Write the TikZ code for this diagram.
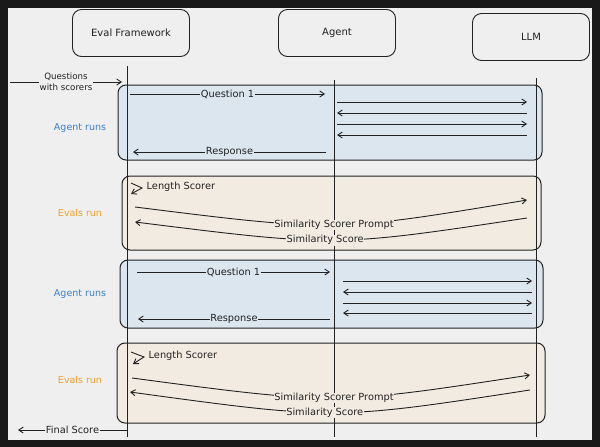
\documentclass[tikz,border=0pt]{standalone}
\usepackage{fontspec}
\setmainfont{DejaVu Sans}
\usetikzlibrary{arrows.meta}
\definecolor{bgc}{HTML}{EFEFEF}
\definecolor{ln}{HTML}{222222}
\definecolor{bluefill}{HTML}{DCE6EF}
\definecolor{orfill}{HTML}{F2EBE2}
\definecolor{bluetxt}{HTML}{3A7FD0}
\definecolor{ortxt}{HTML}{F0A028}
\tikzset{
  actor/.style={draw=ln, line width=0.9pt, rounded corners=9pt, minimum width=117pt, minimum height=47pt, font=\fontsize{10}{12}\selectfont, text=ln},
  lifeline/.style={draw=ln, line width=0.9pt},
  bluebox/.style={draw=ln, line width=1pt, rounded corners=8pt, fill=bluefill},
  orbox/.style={draw=ln, line width=1pt, rounded corners=8pt, fill=orfill},
  msg/.style={draw=ln, line width=0.9pt, -{Straight Barb[length=4.5pt,width=6pt]}},
  lbl/.style={font=\fontsize{9.8}{11}\selectfont, text=ln, inner sep=0.5pt},
  sidelbl/.style={font=\fontsize{9.5}{11}\selectfont},
}
\begin{document}
\begin{tikzpicture}[x=1pt,y=-1pt]
\useasboundingbox (0,0) rectangle (600,447);
\fill[black!90] (0,0) rectangle (600,447);
\fill[bgc] (8,8) rectangle (592,440);

% actors
\node[actor] (ef) at (131,33) {Eval Framework};
\node[actor] (ag) at (337,33) {Agent};
\node[actor] (llm) at (531,37) {LLM};

% region boxes
\path[bluebox] (118,85) rectangle (542,160);
\path[orbox] (122,176) rectangle (541,250);
\path[bluebox] (120,260) rectangle (543,328);
\path[orbox] (117,343) rectangle (545,423);

% side labels
\node[sidelbl, text=bluetxt] (l1) at (80,128) {Agent runs};
\node[sidelbl, text=ortxt] (l2) at (80,213) {Evals run};
\node[sidelbl, text=bluetxt] (l3) at (80,294) {Agent runs};
\node[sidelbl, text=ortxt] (l4) at (80,380) {Evals run};

% lifelines
\coordinate (eT) at (127,66);
\coordinate (eB) at (127,437);
\coordinate (aT) at (334,80);
\coordinate (aB) at (334,437);
\coordinate (lT) at (536,78);
\coordinate (lB) at (536,437);
\draw[lifeline] (eT) -- (eB);
\draw[lifeline] (aT) -- (aB);
\draw[lifeline] (lT) -- (lB);

% input / output
\coordinate (qin) at (10,82);
\coordinate (qend) at (122,82);
\draw[msg] (qin) -- node[lbl, fill=bgc, align=center, font=\fontsize{8.7}{11}\selectfont] (qlab) {Questions\\with scorers} (qend);
\coordinate (fs0) at (127,430);
\coordinate (fs1) at (18,430);
\draw[msg] (fs0) -- node[lbl, fill=bgc] (fslab) {Final Score} (fs1);

% ---------- Agent runs 1 ----------
\coordinate (a1q0) at (130,94);  \coordinate (a1q1) at (325,94);
\draw[msg] (a1q0) -- node[lbl, fill=bluefill] (a1ql) {Question 1} (a1q1);
\foreach \y in {102,113,124,135}{
  \coordinate (a1L\y) at (337,\y); \coordinate (a1R\y) at (527,\y);
}
\draw[msg] (a1L102) -- (a1R102);
\draw[msg] (a1R113) -- (a1L113);
\draw[msg] (a1L124) -- (a1R124);
\draw[msg] (a1R135) -- (a1L135);
\coordinate (a1r0) at (326,152); \coordinate (a1r1) at (133,152);
\draw[msg] (a1r0) -- node[lbl, fill=bluefill, pos=0.5] (a1rl) {Response} (a1r1);

% ---------- Evals run 1 ----------
\coordinate (e1s0) at (131,183); \coordinate (e1s1) at (142,188); \coordinate (e1s2) at (131,194);
\draw[msg] (e1s0) -- (e1s1) -- (e1s2);
\node[lbl, anchor=west] (e1ls) at (146,187) {Length Scorer};
\coordinate (e1p0) at (135,207); \coordinate (e1p1) at (527,200);
\draw[msg] (e1p0) .. controls (335,232) .. node[lbl, fill=orfill, pos=0.5] (e1pl) {Similarity Scorer Prompt} (e1p1);
\coordinate (e1r0) at (527,218); \coordinate (e1r1) at (135,222);
\draw[msg] (e1r0) .. controls (335,247) .. node[lbl, fill=orfill, pos=0.53] (e1rl) {Similarity Score} (e1r1);

% ---------- Agent runs 2 ----------
\coordinate (a2q0) at (137,272);  \coordinate (a2q1) at (330,272);
\draw[msg] (a2q0) -- node[lbl, fill=bluefill] (a2ql) {Question 1} (a2q1);
\foreach \y in {281,292,303,313}{
  \coordinate (a2L\y) at (343,\y); \coordinate (a2R\y) at (532,\y);
}
\draw[msg] (a2L281) -- (a2R281);
\draw[msg] (a2R292) -- (a2L292);
\draw[msg] (a2L303) -- (a2R303);
\draw[msg] (a2R313) -- (a2L313);
\coordinate (a2r0) at (330,319); \coordinate (a2r1) at (138,319);
\draw[msg] (a2r0) -- node[lbl, fill=bluefill] (a2rl) {Response} (a2r1);

% ---------- Evals run 2 ----------
\coordinate (e2s0) at (131,352); \coordinate (e2s1) at (144,357); \coordinate (e2s2) at (133,364);
\draw[msg] (e2s0) -- (e2s1) -- (e2s2);
\node[lbl, anchor=west] (e2ls) at (148,356) {Length Scorer};
\coordinate (e2p0) at (132,378); \coordinate (e2p1) at (530,375);
\draw[msg] (e2p0) .. controls (335,405) .. node[lbl, fill=orfill, pos=0.5] (e2pl) {Similarity Scorer Prompt} (e2p1);
\coordinate (e2r0) at (530,390); \coordinate (e2r1) at (130,392);
\draw[msg] (e2r0) .. controls (335,420) .. node[lbl, fill=orfill, pos=0.53] (e2rl) {Similarity Score} (e2r1);
\end{tikzpicture}
\end{document}
